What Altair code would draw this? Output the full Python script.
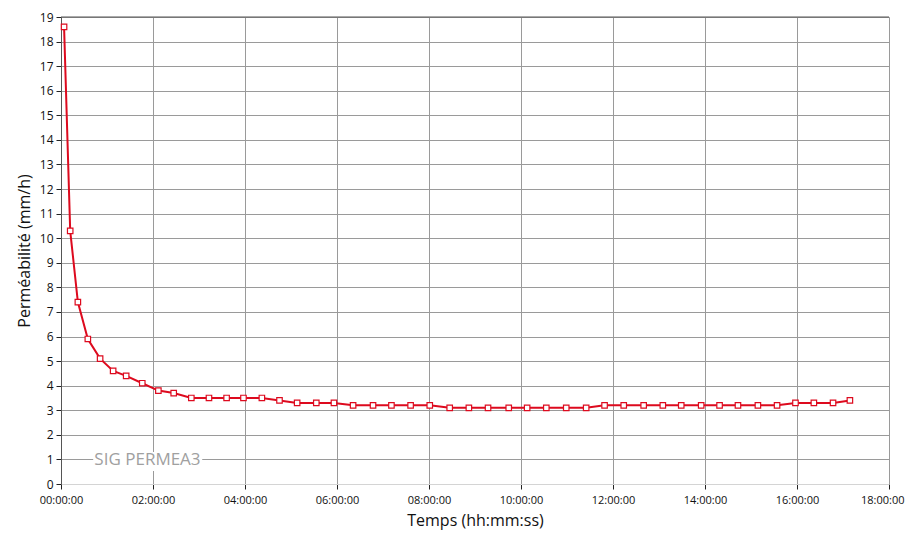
import altair as alt
import pandas as pd

# Elapsed time (minutes) and permeability (mm/h)
minutes = [4, 12, 22, 35, 51, 68, 85, 106, 127, 147, 170, 193, 216, 238, 262,
           285, 308, 333, 356, 381, 407, 431, 456, 481, 507, 532, 557, 584, 608,
           633, 659, 685, 709, 734, 760, 785, 809, 835, 859, 883, 909, 934, 958,
           982, 1007, 1029]
permeability = [18.6, 10.3, 7.4, 5.9, 5.1, 4.6, 4.4, 4.1, 3.8, 3.7, 3.5, 3.5,
                3.5, 3.5, 3.5, 3.4, 3.3, 3.3, 3.3, 3.2, 3.2, 3.2, 3.2, 3.2, 3.1,
                3.1, 3.1, 3.1, 3.1, 3.1, 3.1, 3.1, 3.2, 3.2, 3.2, 3.2, 3.2, 3.2,
                3.2, 3.2, 3.2, 3.2, 3.3, 3.3, 3.3, 3.4]

x_ticks = [0, 2, 4, 6, 8, 10, 12, 14, 16, 18]
y_ticks = list(range(0, 20))

series_name = "SIG PERMEA3"
label_pos = {"x": 1.88, "y": 0.96, "x0": 0.70, "x1": 3.07, "y0": 0.53, "y1": 1.30}

df = pd.DataFrame({"hours": [m / 60 for m in minutes], "perm": permeability})
lab = pd.DataFrame([{**label_pos, "name": series_name}])

FONT = "Open Sans"
RED = "#dd0a1e"

x_scale = alt.Scale(domain=[0, 18], nice=False, zero=False)
y_scale = alt.Scale(domain=[0, 19], nice=False, zero=False)

x_axis = alt.Axis(values=x_ticks, title="Temps (hh:mm:ss)",
                  labelExpr="(datum.value < 10 ? '0' : '') + datum.value + ':00:00'",
                  labelAlign={"condition": {"test": "datum.value == 18", "value": "right"},
                              "value": "center"},
                  labelOffset={"condition": {"test": "datum.value == 18", "value": 15},
                               "value": 0},
                  grid=True, gridColor="#9a9a9a", gridWidth=1,
                  domainColor="#d4d4d4", domainWidth=1,
                  tickColor="#222222", tickSize=5, tickWidth=1,
                  labelFont=FONT, labelFontSize=11, labelColor="#111111",
                  labelPadding=5, labelFlush=False, labelOverlap=False,
                  titleFont=FONT, titleFontSize=16, titleFontWeight="normal",
                  titleColor="#111111", titlePadding=7)
y_axis = alt.Axis(values=y_ticks, title="Perméabilité (mm/h)",
                  grid=True, gridColor="#9a9a9a", gridWidth=1,
                  domainColor="#555555", domainWidth=1,
                  tickColor="#222222", tickSize=5, tickWidth=1,
                  labelFont=FONT, labelFontSize=12, labelColor="#111111",
                  labelPadding=3, labelFlush=False, labelOverlap=False,
                  titleFont=FONT, titleFontSize=16, titleFontWeight="normal",
                  titleColor="#111111", titlePadding=7)

line = alt.Chart(df).mark_line(color=RED, strokeWidth=2).encode(
    x=alt.X("hours:Q", scale=x_scale, axis=x_axis),
    y=alt.Y("perm:Q", scale=y_scale, axis=y_axis))
points = alt.Chart(df).mark_point(shape="square", size=30, filled=False,
                                  fill="white", fillOpacity=1, color=RED,
                                  strokeWidth=1.2, opacity=1).encode(
    x=alt.X("hours:Q", scale=x_scale, axis=x_axis),
    y=alt.Y("perm:Q", scale=y_scale, axis=y_axis))

top_rule = alt.Chart(lab).mark_rule(color="#555555", strokeWidth=1).encode(
    y=alt.YDatum(19, type="quantitative", scale=y_scale, axis=y_axis))

box = alt.Chart(lab).mark_rect(color="white").encode(
    x=alt.X("x0:Q", scale=x_scale, axis=x_axis), x2="x1:Q",
    y=alt.Y("y0:Q", scale=y_scale, axis=y_axis), y2="y1:Q")
text = alt.Chart(lab).mark_text(font=FONT, fontSize=17, color="#a0a0a0",
                                align="center", baseline="middle").encode(
    x=alt.X("x:Q", scale=x_scale, axis=x_axis),
    y=alt.Y("y:Q", scale=y_scale, axis=y_axis),
    text="name:N")

chart = alt.layer(line, box, text, top_rule, points).properties(
    width=828, height=467,
    autosize=alt.AutoSizeParams(type="none"),
    padding={"left": 53, "top": 9, "right": 17, "bottom": 50},
).configure_view(stroke="#d4d4d4", strokeWidth=1).configure(background="white")

chart.save("out.html", embed_options={"renderer": "svg", "actions": False})
